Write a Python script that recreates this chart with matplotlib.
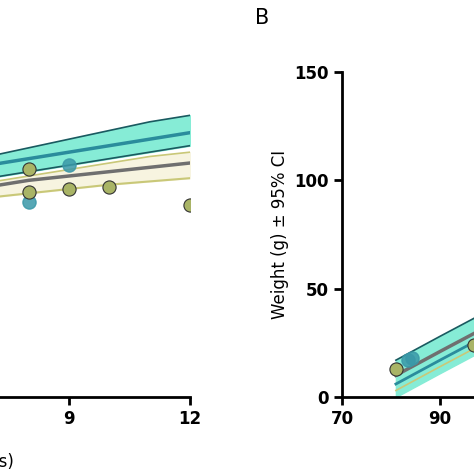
import matplotlib
matplotlib.use("Agg")
import matplotlib.pyplot as plt

# Panel A (visible part)
ax_x = [6, 7, 8, 9, 10, 11, 12]
teal_hi = [107, 111, 115, 119, 123, 127, 130]
teal_mid = [103, 107, 110, 113, 116, 119, 122]
teal_lo = [97, 101, 104, 107, 110, 113, 116]
cream_hi = [95, 99, 102, 105, 108, 111, 113]
grey_mid = [94, 97, 100, 102, 104, 106, 108]
yel_lo = [90, 92, 94, 96, 98, 99.5, 101]
a_pts_x = [8, 8, 9, 10, 12]
a_pts_y = [105, 94.5, 96, 97, 88.5]
a_teal_x = [8, 9]
a_teal_y = [90, 107]

# Panel B (visible part)
b_x = [81, 90, 100, 110, 120, 130]
b_hi = [17, 28, 40, 52, 64, 76]
b_mid = [10, 21, 33, 45, 57, 69]
b_teal = [6, 17, 29, 41, 53, 65]
b_yel = [3, 14, 26, 38, 50, 62]
b_lo = [0, 11, 23, 35, 47, 59]
b_pts_x = [81, 97]
b_pts_y = [13, 24]
b_teal_x = [83.5, 84.2]
b_teal_y = [17, 18]

TEAL_F = "#86ecd6"; TEAL_L = "#2a8c9c"; CREAM = "#f7f4e0"
GREY = "#6f6f6f"; YEL = "#c9c878"; OLIVE = "#a9b466"; TEALP = "#3a98a8"

fig = plt.figure(figsize=(4.74, 4.74), dpi=100)
bot, h = 1 - 397/474, (397-72)/474
axA = fig.add_axes([-294/474, bot, 484/474, h])
axB = fig.add_axes([342/474, bot, 294/474, h])

for ax in (axA, axB):
    ax.set_ylim(0, 150)
    for s in ("top", "right"):
        ax.spines[s].set_visible(False)
    for s in ("left", "bottom"):
        ax.spines[s].set_linewidth(2)
    ax.tick_params(width=2, length=6, labelsize=12)

axA.set_xlim(0, 12)
axA.set_xticks([9, 12])
axA.set_yticks([])
axA.fill_between(ax_x, yel_lo, cream_hi, color=CREAM, zorder=1)
axA.fill_between(ax_x, teal_lo, teal_hi, color=TEAL_F, zorder=2)
axA.plot(ax_x, teal_hi, color="#1a5a60", lw=1.2, zorder=3)
axA.plot(ax_x, teal_lo, color="#1a5a60", lw=1.2, zorder=3)
axA.plot(ax_x, teal_mid, color=TEAL_L, lw=2.5, zorder=3)
axA.plot(ax_x, cream_hi, color=YEL, lw=1.2, zorder=3)
axA.plot(ax_x, grey_mid, color=GREY, lw=2.5, zorder=3)
axA.plot(ax_x, yel_lo, color=YEL, lw=1.5, zorder=3)
axA.scatter(a_teal_x, a_teal_y, s=90, color=TEALP, alpha=0.85, zorder=4)
axA.scatter(a_pts_x, a_pts_y, s=90, color=OLIVE, edgecolor="#333", linewidth=0.8, zorder=5)

axB.set_xlim(70, 130)
axB.set_xticks([70, 90, 110, 130])
axB.set_yticks([0, 50, 100, 150])
axB.fill_between(b_x, b_lo, b_hi, color=TEAL_F, zorder=1)
axB.plot(b_x, b_hi, color="#1a5a60", lw=1.2, zorder=3)
axB.plot(b_x, b_mid, color=GREY, lw=2.5, zorder=3)
axB.plot(b_x, b_teal, color=TEAL_L, lw=2, zorder=3)
axB.plot(b_x, b_yel, color=YEL, lw=1.2, zorder=3)
axB.scatter(b_teal_x, b_teal_y, s=90, color=TEALP, alpha=0.85, zorder=4)
axB.scatter(b_pts_x, b_pts_y, s=90, color=OLIVE, edgecolor="#333", linewidth=0.8, zorder=5)
axB.set_ylabel("Weight (g) ± 95% CI", fontsize=12, labelpad=4)

for ax in (axA, axB):
    for lab in ax.get_xticklabels() + ax.get_yticklabels():
        lab.set_fontweight("bold")

fig.text(255/474, 1 - 18/474, "B", fontsize=15, va="center")
fig.text(14/474, 1 - 462/474, "Age (weeks)", fontsize=12, ha="right", va="center")

fig.savefig("out.png", dpi=100)
